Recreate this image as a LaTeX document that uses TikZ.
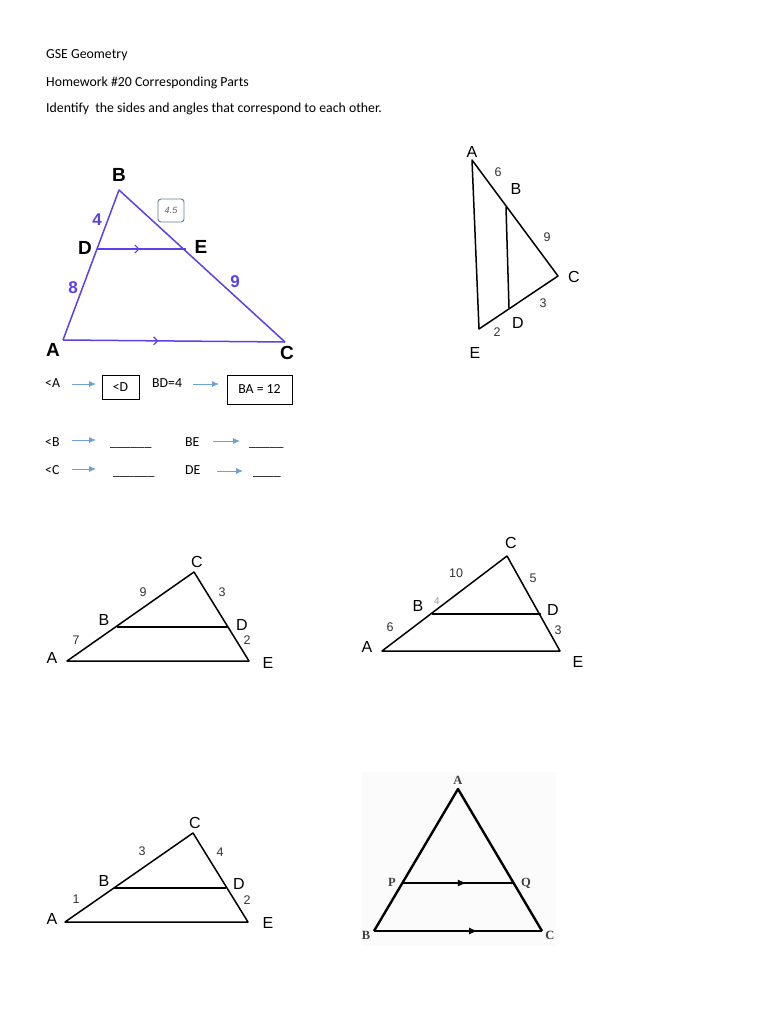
\documentclass[tikz,border=0pt]{standalone}
\usepackage{fontspec}
\setmainfont{Carlito}
\newfontfamily\arialfont{Liberation Sans}
\newfontfamily\timesfont{Liberation Serif}
\usetikzlibrary{calc,arrows.meta,decorations.markings,positioning}
\definecolor{myblue}{RGB}{88,66,232}
\definecolor{myarrow}{RGB}{110,160,215}
\definecolor{mybox}{RGB}{95,125,150}
\tikzstyle{line}=[line width=1.5pt,line join=round]
\tikzstyle{blueline}=[draw=myblue,line width=1.5pt,line join=round]
\tikzstyle{thickline}=[line width=2.4pt,line join=round]
\tikzstyle{bvert}=[inner sep=0pt,font=\arialfont\bfseries\fontsize{19}{19}\selectfont]
\tikzstyle{bnum}=[inner sep=0pt,text=myblue,font=\arialfont\bfseries\fontsize{17}{17}\selectfont]
\tikzstyle{vert}=[inner sep=0pt,font=\arialfont\fontsize{16}{16}\selectfont]
\tikzstyle{num}=[inner sep=0pt,text=black!80,font=\arialfont\fontsize{12.5}{12.5}\selectfont]
\tikzstyle{svert}=[inner sep=0pt,text=black!75,font=\timesfont\bfseries\fontsize{12.5}{12.5}\selectfont]
\tikzstyle{txt}=[anchor=base west,inner sep=0pt,font=\fontsize{13.8}{16}\selectfont]
\tikzstyle{corr}=[-{Latex[length=7pt,width=6pt]},draw=myarrow,line width=0.9pt]
\tikzstyle{ansbox}=[draw,line width=0.8pt,inner sep=0pt,font=\fontsize{13.8}{16}\selectfont]
\tikzstyle{openmark}=[postaction={decorate,decoration={markings,mark=at position #1 with {\arrow{Straight Barb[length=4pt,width=8pt,line width=1.2pt]}}}}]
\tikzstyle{fullmark}=[postaction={decorate,decoration={markings,mark=at position #1 with {\arrow{Latex[length=9pt,width=7pt]}}}}]

\begin{document}
\begin{tikzpicture}[x=1pt,y=-1pt]
\useasboundingbox (0,0) rectangle (768,1024);
\fill[white] (0,0) rectangle (768,1024);

% heading
\draw (46,59) node [txt] (t1) {GSE Geometry};
\draw (46,87) node [txt] (t2) {Homework \#20 Corresponding Parts};
\draw (46,113) node [txt] (t3) {Identify\ \ the sides and angles that correspond to each other.};

% blue triangle
\coordinate (B1) at (119,190);
\coordinate (D1) at (97,249);
\coordinate (E1) at (186,249);
\coordinate (A1) at (63,340);
\coordinate (C1) at (285,342);
\draw[blueline] (A1) -- (B1) -- (C1);
\draw[blueline,openmark=0.48] (D1) -- (E1);
\draw[blueline,openmark=0.43] (A1) -- (C1);
\draw (119,175) node [bvert] (lB1) {B};
\draw (85,248) node [bvert] (lD1) {D};
\draw (201,247) node [bvert] (lE1) {E};
\draw (53,350) node [bvert] (lA1) {A};
\draw (287,353) node [bvert] (lC1) {C};
\draw (97,220) node [bnum] (n4) {4};
\draw (73,288) node [bnum] (n8) {8};
\draw (235,282) node [bnum] (n9) {9};
\draw (171,210.5) node [draw=mybox,line width=0.9pt,rounded corners=3pt,minimum width=26pt,minimum height=23pt,inner sep=0pt,text=black!60,font=\arialfont\itshape\fontsize{9}{9}\selectfont] (n45) {4.5};

% corresponding parts
\draw (45,387) node [txt] (rA) {<A};
\coordinate (p1) at (72,384);
\coordinate (q1) at (96,384);
\draw[corr] (p1) -- (q1);
\draw (120.5,387) node [ansbox,minimum width=37pt,minimum height=24pt] (bD) {<D};
\draw (152,387) node [txt] (rBD) {BD=4};
\coordinate (p2) at (193,384);
\coordinate (q2) at (219,384);
\draw[corr] (p2) -- (q2);
\draw (259.5,389.5) node [ansbox,minimum width=65pt,minimum height=29pt] (bBA) {BA = 12};

\draw (45,446) node [txt] (rB) {<B};
\coordinate (p3) at (72,440);
\coordinate (q3) at (96,440);
\draw[corr] (p3) -- (q3);
\draw (110,446) node [txt] (sB) {\_\_\_\_\_\_};
\draw (185,446) node [txt] (rBE) {BE};
\coordinate (p4) at (213,441);
\coordinate (q4) at (240,441);
\draw[corr] (p4) -- (q4);
\draw (249,446) node [txt] (sBE) {\_\_\_\_\_};

\draw (45,474) node [txt] (rC) {<C};
\coordinate (p5) at (72,469);
\coordinate (q5) at (96,469);
\draw[corr] (p5) -- (q5);
\draw (113,475) node [txt] (sC) {\_\_\_\_\_\_};
\draw (185,474) node [txt] (rDE) {DE};
\coordinate (p6) at (217,471);
\coordinate (q6) at (243,471);
\draw[corr] (p6) -- (q6);
\draw (253,475) node [txt] (sDE) {\_\_\_\_};

% right triangle
\coordinate (A2) at (472,160);
\coordinate (B2) at (506,207);
\coordinate (C2) at (558,276);
\coordinate (D2) at (509,308);
\coordinate (E2) at (479,329);
\draw[line] (E2) -- (A2) -- (C2) -- cycle;
\draw[line] (B2) -- (D2);
\draw (472,152) node [vert] (lA2) {A};
\draw (516,189) node [vert] (lB2) {B};
\draw (574,277) node [vert] (lC2) {C};
\draw (518,323) node [vert] (lD2) {D};
\draw (475,353) node [vert] (lE2) {E};
\draw (498,172) node [num] (m6) {6};
\draw (547,237) node [num] (m9) {9};
\draw (543,303) node [num] (m3) {3};
\draw (497,332) node [num] (m2) {2};

% triangle 3
\coordinate (A3) at (67,661);
\coordinate (B3) at (117,627);
\coordinate (C3) at (194,572);
\coordinate (D3) at (228,627);
\coordinate (E3) at (249,661);
\draw[line] (A3) -- (C3) -- (E3) -- cycle;
\draw[line] (B3) -- (D3);
\draw (197,562) node [vert] (lC3) {C};
\draw (104,620) node [vert] (lB3) {B};
\draw (242,625) node [vert] (lD3) {D};
\draw (52,658) node [vert] (lA3) {A};
\draw (268,663) node [vert] (lE3) {E};
\draw (143,592) node [num] (k9) {9};
\draw (222,592) node [num] (k3) {3};
\draw (76,640) node [num] (k7) {7};
\draw (247,640) node [num] (k2) {2};

% triangle 4
\coordinate (A4) at (382,651);
\coordinate (B4) at (432,614);
\coordinate (C4) at (507,556);
\coordinate (D4) at (541,614);
\coordinate (E4) at (560,651);
\draw[line] (A4) -- (C4) -- (E4) -- cycle;
\draw[line] (B4) -- (D4);
\draw (511,543) node [vert] (lC4) {C};
\draw (418,606) node [vert] (lB4) {B};
\draw (553,610) node [vert] (lD4) {D};
\draw (367,647) node [vert] (lA4) {A};
\draw (578,662) node [vert] (lE4) {E};
\draw (456,573) node [num] (j10) {10};
\draw (533,578) node [num] (j5) {5};
\draw (390,627) node [num] (j6) {6};
\draw (558,630) node [num] (j3) {3};
\draw (437,601) node [num,text=black!40,font=\arialfont\fontsize{10}{10}\selectfont] (j4) {4};

% triangle 5
\coordinate (A5) at (65,922);
\coordinate (B5) at (114,888);
\coordinate (C5) at (193,833);
\coordinate (D5) at (226,888);
\coordinate (E5) at (248,922);
\draw[line] (A5) -- (C5) -- (E5) -- cycle;
\draw[line] (B5) -- (D5);
\draw (195,823) node [vert] (lC5) {C};
\draw (104,881) node [vert] (lB5) {B};
\draw (239,884) node [vert] (lD5) {D};
\draw (52,919) node [vert] (lA5) {A};
\draw (268,923) node [vert] (lE5) {E};
\draw (142,851) node [num] (i3) {3};
\draw (220,852) node [num] (i4) {4};
\draw (76,899) node [num] (i1) {1};
\draw (247,900) node [num] (i2) {2};

% triangle PQ
\fill[black!1.5] (362,772) rectangle (556,946);
\coordinate (A6) at (458,789);
\coordinate (P6) at (402,883);
\coordinate (Q6) at (514,883);
\coordinate (B6) at (374,931);
\coordinate (C6) at (542,931);
\draw[thickline] (B6) -- (A6) -- (C6);
\draw[thickline,fullmark=0.58] (P6) -- (Q6);
\draw[thickline,fullmark=0.62] (B6) -- (C6);
\draw (458,780) node [svert] (lA6) {A};
\draw (392,882) node [svert] (lP6) {P};
\draw (526,883) node [svert] (lQ6) {Q};
\draw (366,935) node [svert] (lB6) {B};
\draw (550,935) node [svert] (lC6) {C};
\end{tikzpicture}
\end{document}
